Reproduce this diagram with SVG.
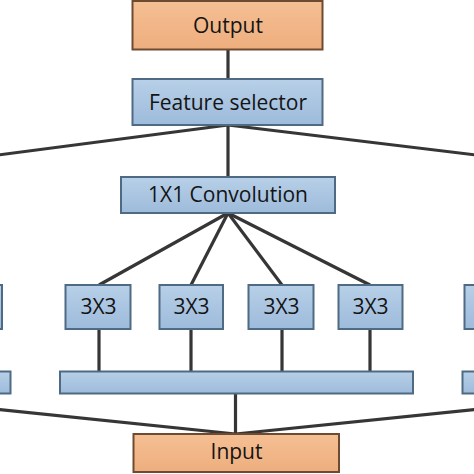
<svg xmlns="http://www.w3.org/2000/svg" width="474" height="474" viewBox="0 0 474 474">
<defs>
<linearGradient id="gb" x1="0" y1="0" x2="0" y2="1">
<stop offset="0" stop-color="#b8d0e8"/>
<stop offset="1" stop-color="#9dbbdb"/>
</linearGradient>
<linearGradient id="go" x1="0" y1="0" x2="0" y2="1">
<stop offset="0" stop-color="#f5bf93"/>
<stop offset="1" stop-color="#eeae7e"/>
</linearGradient>
</defs>
<style>
.b{fill:url(#gb);stroke:#4f6a83;stroke-width:2}
.o{fill:url(#go);stroke:#6e4a30;stroke-width:2}
.t{font-family:"Open Sans","Noto Sans",sans-serif;font-size:21px;fill:#141414;text-anchor:middle}
.c line{stroke:#363636;stroke-width:3.2;stroke-linecap:butt}
</style>
<rect width="474" height="474" fill="#ffffff"/>
<g class="c" id="connectors">
<line x1="228" y1="49" x2="228" y2="79"/>
<line x1="228" y1="125" x2="228" y2="177"/>
<line x1="228" y1="125" x2="-2" y2="155"/>
<line x1="228" y1="125" x2="476" y2="155"/>
<line x1="228" y1="213" x2="99" y2="285"/>
<line x1="228" y1="213" x2="191" y2="285"/>
<line x1="228" y1="213" x2="282" y2="285"/>
<line x1="228" y1="213" x2="370" y2="285"/>
<line x1="99" y1="329" x2="99" y2="372"/>
<line x1="191" y1="329" x2="191" y2="372"/>
<line x1="282" y1="329" x2="282" y2="372"/>
<line x1="370" y1="329" x2="370" y2="372"/>
<line x1="235.5" y1="393" x2="235.5" y2="434"/>
<line x1="-2" y1="409.5" x2="235.5" y2="434"/>
<line x1="476" y1="409.5" x2="235.5" y2="434"/>
</g>
<g id="output"><rect class="o" x="132.5" y="1" width="190" height="48.5"/><text class="t" x="228" y="33">Output</text></g>
<g id="feature-selector"><rect class="b" x="132.5" y="79" width="190" height="46"/><text class="t" x="228" y="110">Feature selector</text></g>
<g id="conv1x1"><rect class="b" x="121" y="177" width="214" height="36"/><text class="t" x="228" y="202">1X1 Convolution</text></g>
<g id="conv3x3-a"><rect class="b" x="65.5" y="285" width="65" height="44"/><text class="t" x="98.5" y="314">3X3</text></g>
<g id="conv3x3-b"><rect class="b" x="159.5" y="285" width="63.5" height="44"/><text class="t" x="191.5" y="314">3X3</text></g>
<g id="conv3x3-c"><rect class="b" x="248.5" y="285" width="65" height="44"/><text class="t" x="281.5" y="314">3X3</text></g>
<g id="conv3x3-d"><rect class="b" x="338.5" y="285" width="64" height="44"/><text class="t" x="370.5" y="314">3X3</text></g>
<g id="left-box"><rect class="b" x="-40" y="285" width="42" height="44"/></g>
<g id="right-box"><rect class="b" x="464.5" y="285" width="40" height="44"/></g>
<g id="bar"><rect class="b" x="60" y="371.5" width="353" height="22"/></g>
<g id="left-bar"><rect class="b" x="-40" y="371.5" width="50.5" height="22"/></g>
<g id="right-bar"><rect class="b" x="462.5" y="371.5" width="40" height="22"/></g>
<g id="input"><rect class="o" x="133.5" y="434" width="205.5" height="38"/><text class="t" x="236.5" y="459">Input</text></g>
</svg>
